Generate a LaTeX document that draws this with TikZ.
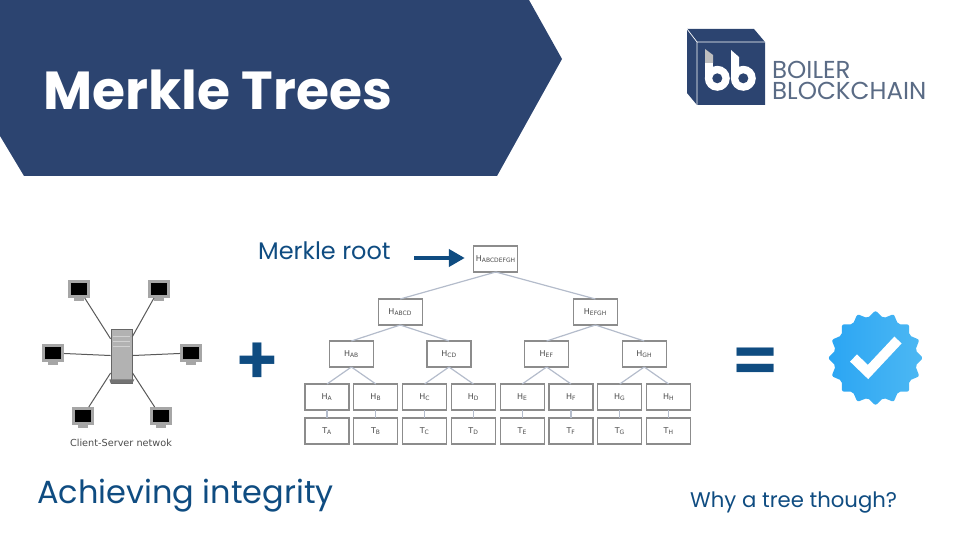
\documentclass[tikz,border=0pt]{standalone}
\usepackage{fontspec}
\setmainfont{Poppins}
\newfontfamily\treefont{DejaVu Sans}
\newfontfamily\signfont{Poppins SemiBold}
\usepackage{tikz}
\usetikzlibrary{arrows.meta,positioning,shapes.geometric,calc}
\definecolor{bbNavy}{HTML}{2C4470}
\definecolor{bbBlue}{HTML}{0F4C81}
\definecolor{bbSlate}{HTML}{5A6B85}
\definecolor{boxGray}{HTML}{8C8C8C}
\definecolor{edgeGray}{HTML}{B4BCCB}
\definecolor{tickLeft}{HTML}{2AA5F3}
\definecolor{tickRight}{HTML}{4DB8F3}
\newcommand{\hlabel}[1]{H\textsubscript{#1}}
\newcommand{\tlabel}[1]{T\textsubscript{#1}}
\newcommand{\monitor}[2]{%
  \node[monitorbox] (#1) at (#2) {};
  \node[monitorfoot, below=0pt of #1] (#1foot) {};}
\begin{document}
\begin{tikzpicture}[
  x=1pt, y=-1pt,
  hbox/.style={draw=boxGray, line width=1.1pt, fill=white, outer sep=0pt,
    font=\treefont\fontsize{8}{9}\selectfont, text=black!70,
    minimum width=44pt, minimum height=26pt, inner sep=0pt},
  link/.style={edgeGray, line width=1.2pt},
  monitorbox/.style={draw=black!35, line width=3pt, fill=black, outer sep=1.5pt,
    minimum width=19pt, minimum height=15pt, inner sep=0pt},
  monitorfoot/.style={fill=black!35, minimum width=10pt, minimum height=3pt, inner sep=0pt},
  wire/.style={black!65, line width=1pt},
  bluetext/.style={text=bbBlue, inner sep=0pt}
]
\useasboundingbox (0,0) rectangle (960,540);
% banner
\fill[bbNavy] (0,0) -- (529,0) -- (562,59) -- (497,176) -- (24,176) -- (0,136) -- cycle;
\node[text=white, inner sep=0pt, font=\fontsize{53.5}{60}\selectfont\bfseries] (title) at (218,90) {Merkle Trees};
% logo
\fill[bbNavy] (687,29) -- (754,29) -- (765,42) -- (765,105) -- (697,105) -- (687,93) -- cycle;
\draw[white, line width=0.7pt] (687,29) -- (697,42) -- (765,42) (697,42) -- (697,105);
\fill[black!25] (705,49) -- (713,55) -- (713,63) -- (705,63) -- cycle;
\fill[white] (705,63) rectangle (713,78);
\fill[white] (731,50) -- (739,57) -- (739,78) -- (731,78) -- cycle;
\fill[white] (717.3,78.3) circle (12.5);
\fill[white] (743.3,78.3) circle (12.5);
\fill[bbNavy] (717.3,78.3) circle (5);
\fill[bbNavy] (743.3,78.3) circle (5);
\node[text=bbSlate, inner sep=0pt, anchor=west, align=left, font=\fontsize{24.5}{21}\selectfont] (logoname) at (772,80.5) {BOILER\\BLOCKCHAIN};
% client server
\node[draw=black!60, fill=black!30, line width=0.8pt, minimum width=21pt, minimum height=54pt, inner sep=0pt] (server) at (121.5,356) {};
\fill[black!55] (server.south west) -- (server.south east) -- ++(2,-4) -- ++(-25,0) -- cycle;
\draw[black!18, line width=0.7pt] (113,336) -- (130,336) (113,341) -- (130,341) (113,346) -- (130,346);
\monitor{monTL}{79,289}
\monitor{monTR}{159,289}
\monitor{monL}{53,353}
\monitor{monR}{191,353}
\monitor{monBL}{83,416}
\monitor{monBR}{160.5,416}
\draw[wire] (monTL) -- (server);
\draw[wire] (monTR) -- (server);
\draw[wire] (monL) -- (server);
\draw[wire] (monR) -- (server);
\draw[wire] (monBL) -- (server);
\draw[wire] (monBR) -- (server);
\node[text=black!70, inner sep=0pt, font=\treefont\fontsize{9.7}{11}\selectfont] (netlabel) at (121,443) {Client-Server netwok};
% merkle tree
\node[hbox] (hA) at (327,397) {\hlabel{A}};
\node[hbox, right=4.8pt of hA] (hB) {\hlabel{B}};
\node[hbox, right=4.8pt of hB] (hC) {\hlabel{C}};
\node[hbox, right=4.8pt of hC] (hD) {\hlabel{D}};
\node[hbox, right=4.8pt of hD] (hE) {\hlabel{E}};
\node[hbox, right=4.8pt of hE] (hF) {\hlabel{F}};
\node[hbox, right=4.8pt of hF] (hG) {\hlabel{G}};
\node[hbox, right=4.8pt of hG] (hH) {\hlabel{H}};
\node[hbox, below=8pt of hA] (tA) {\tlabel{A}};
\node[hbox, below=8pt of hB] (tB) {\tlabel{B}};
\node[hbox, below=8pt of hC] (tC) {\tlabel{C}};
\node[hbox, below=8pt of hD] (tD) {\tlabel{D}};
\node[hbox, below=8pt of hE] (tE) {\tlabel{E}};
\node[hbox, below=8pt of hF] (tF) {\tlabel{F}};
\node[hbox, below=8pt of hG] (tG) {\tlabel{G}};
\node[hbox, below=8pt of hH] (tH) {\tlabel{H}};
\node[hbox, above=17pt of $(hA.north)!0.5!(hB.north)$] (hAB) {\hlabel{AB}};
\node[hbox, above=17pt of $(hC.north)!0.5!(hD.north)$] (hCD) {\hlabel{CD}};
\node[hbox, above=17pt of $(hE.north)!0.5!(hF.north)$] (hEF) {\hlabel{EF}};
\node[hbox, above=17pt of $(hG.north)!0.5!(hH.north)$] (hGH) {\hlabel{GH}};
\node[hbox, above=16pt of $(hAB.north)!0.5!(hCD.north)$] (hABCD) {\hlabel{ABCD}};
\node[hbox, above=16pt of $(hEF.north)!0.5!(hGH.north)$] (hEFGH) {\hlabel{EFGH}};
\node[hbox, above=27pt of $(hABCD.north)!0.5!(hEFGH.north)$, xshift=-2pt] (hRoot) {\hlabel{ABCDEFGH}};
\draw[link] (hRoot.south) -- (hABCD.north);
\draw[link] (hRoot.south) -- (hEFGH.north);
\draw[link] (hABCD.south) -- (hAB.north);
\draw[link] (hABCD.south) -- (hCD.north);
\draw[link] (hEFGH.south) -- (hEF.north);
\draw[link] (hEFGH.south) -- (hGH.north);
\draw[link] (hAB.south) -- (hA.north);
\draw[link] (hAB.south) -- (hB.north);
\draw[link] (hCD.south) -- (hC.north);
\draw[link] (hCD.south) -- (hD.north);
\draw[link] (hEF.south) -- (hE.north);
\draw[link] (hEF.south) -- (hF.north);
\draw[link] (hGH.south) -- (hG.north);
\draw[link] (hGH.south) -- (hH.north);
\draw[link] (hA) -- (tA);
\draw[link] (hB) -- (tB);
\draw[link] (hC) -- (tC);
\draw[link] (hD) -- (tD);
\draw[link] (hE) -- (tE);
\draw[link] (hF) -- (tF);
\draw[link] (hG) -- (tG);
\draw[link] (hH) -- (tH);
% labels
\node[bluetext, anchor=west, font=\fontsize{24}{28}\selectfont] (rootlabel) at (258,251) {Merkle root};
\coordinate (rootarrow) at (414,258);
\draw[-{Triangle[length=16pt,width=17pt]}, bbBlue, line width=4pt, shorten >=9pt] (rootarrow) -- (rootarrow -| hRoot.west);
\node[bluetext, font=\signfont\fontsize{68}{68}\selectfont] (plus) at (257,364) {+};
\node[bluetext, font=\signfont\fontsize{68}{68}\selectfont] (equals) at (756,366) {=};
\node[bluetext, anchor=west, font=\fontsize{32}{38}\selectfont] (integrity) at (37,496) {Achieving integrity};
\node[bluetext, anchor=west, font=\fontsize{21.2}{25}\selectfont] (whytree) at (690,503) {Why a tree though?};
% badge
\node[star, star points=16, star point ratio=1.17, minimum size=95pt, inner sep=0pt,
  left color=tickLeft, right color=tickRight, rounded corners=2pt] (badge) at (875.5,358) {};
\draw[white, line width=10pt] (853.5,358) -- (868,372) -- (898,340);
\end{tikzpicture}
\end{document}
